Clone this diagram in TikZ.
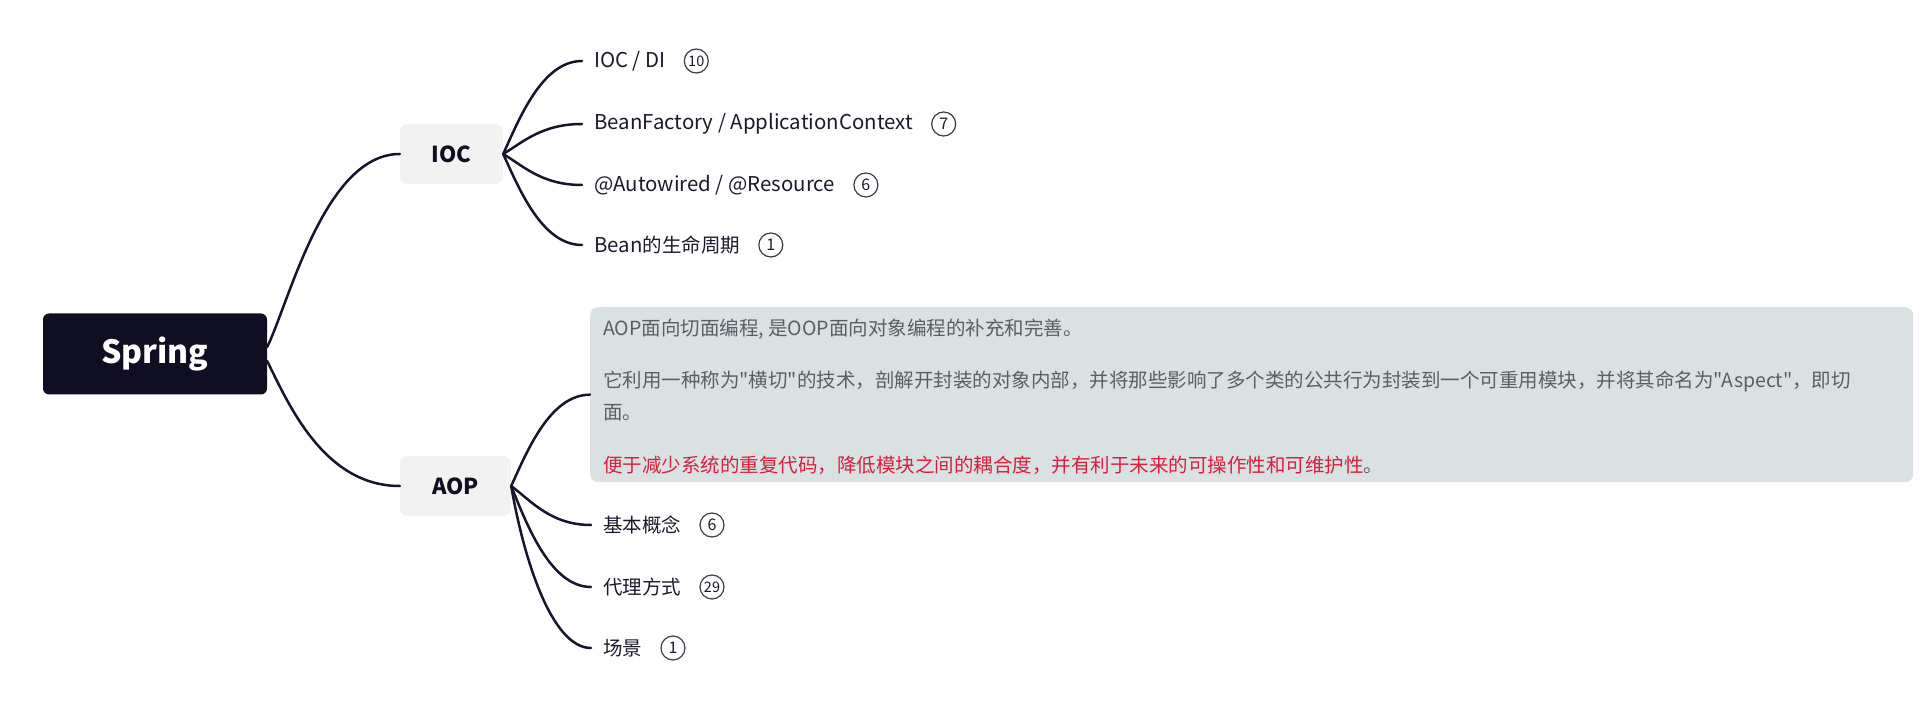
\documentclass[tikz,border=0pt]{standalone}
\usepackage{fontspec}
\setmainfont{Noto Sans CJK SC}
\newfontfamily\plainfont{Noto Sans CJK SC}
\usetikzlibrary{positioning}
\definecolor{navy}{HTML}{100E23}
\definecolor{linec}{HTML}{17142B}
\definecolor{boxgray}{HTML}{F2F2F2}
\definecolor{notebg}{HTML}{DAE1E3}
\definecolor{notetxt}{HTML}{5A5F64}
\definecolor{redtxt}{HTML}{D6203F}
\definecolor{childtxt}{HTML}{1B1A2C}
\definecolor{badgec}{HTML}{3C3C44}
\newcommand{\lat}[1]{{\fontsize{20.4}{24}\selectfont #1}}
\begin{document}
\begin{tikzpicture}[x=1pt,y=-1pt,
  conn/.style={draw=linec, line width=2.5pt, line cap=round},
  rootbox/.style={fill=navy, rounded corners=6pt, minimum width=224pt, minimum height=81pt, text=white, font=\fontsize{32}{38}\selectfont\bfseries},
  topic/.style={fill=boxgray, rounded corners=7pt, minimum height=60pt, text=navy, font=\fontsize{22}{26}\selectfont\bfseries},
  leaf/.style={anchor=west, inner sep=0pt, text=childtxt, font=\fontsize{19.5}{24}\selectfont},
  badge/.style={circle, draw=badgec, line width=1.2pt, minimum size=24pt, inner sep=0pt, text=childtxt, font=\fontsize{16}{18}\selectfont},
  notebox/.style={fill=notebg, rounded corners=8pt, inner sep=0pt},
  noteline/.style={anchor=west, inner sep=0pt, text=notetxt, font=\plainfont\fontsize{19.5}{24}\selectfont},
]
\useasboundingbox (0,0) rectangle (1920,708);

% root and topics
\node[rootbox] (spring) at (155,354) {Spring};
\node[topic, minimum width=103pt] (ioc) at (451.5,154) {IOC};
\node[topic, minimum width=111pt] (aop) at (455.5,486) {AOP};

% IOC children
\node[leaf] (c1) at (594,61) {\lat{IOC / DI}};
\node[leaf] (c2) at (594,124) {\lat{BeanFactory / ApplicationContext}};
\node[leaf] (c3) at (594,185) {\lat{@Autowired / @Resource}};
\node[leaf] (c4) at (594,245) {\lat{Bean}的生命周期};
\node[badge, right=18pt of c1] (b1) {\fontsize{14.5}{16}\selectfont 10};
\node[badge, right=18pt of c2] (b2) {7};
\node[badge, right=18pt of c3] (b3) {6};
\node[badge, right=18pt of c4] (b4) {1};

% AOP note
\node[notebox, minimum width=1323pt, minimum height=175pt, anchor=north west] (note) at (590,307) {};
\node[noteline] (n1) at (603,329) {AOP面向切面编程, 是OOP面向对象编程的补充和完善。};
\node[noteline] (n2) at (603,381) {它利用一种称为"横切"的技术，剖解开封装的对象内部，并将那些影响了多个类的公共行为封装到一个可重用模块，并将其命名为"Aspect"，即切};
\node[noteline] (n3) at (603,413) {面。};
\node[noteline] (n4) at (603,465) {\textcolor{redtxt}{便于减少系统的重复代码，降低模块之间的耦合度，并有利于未来的可操作性和可维护性}。};

% AOP children
\node[leaf] (a2) at (603,525) {基本概念};
\node[leaf] (a3) at (603,587) {代理方式};
\node[leaf] (a4) at (603,648) {场景};
\node[badge, right=18pt of a2] (b5) {6};
\node[badge, right=18pt of a3] (b6) {\fontsize{14.5}{16}\selectfont 29};
\node[badge, right=18pt of a4] (b7) {1};

% connectors
\draw[conn] ([yshift=7pt]spring.east) .. controls +(22,-45) and +(-75,0) .. (ioc.west);
\draw[conn] ([yshift=-7pt]spring.east) .. controls +(22,45) and +(-75,0) .. (aop.west);

\draw[conn] (ioc.east) .. controls +(16,-35) and +(-40,0) .. ([xshift=-12pt]c1.west);
\draw[conn] (ioc.east) .. controls +(20,-12) and +(-40,0) .. ([xshift=-12pt]c2.west);
\draw[conn] (ioc.east) .. controls +(20,12) and +(-40,0) .. ([xshift=-12pt]c3.west);
\draw[conn] (ioc.east) .. controls +(16,35) and +(-40,0) .. ([xshift=-12pt]c4.west);

\draw[conn] (aop.east) .. controls +(16,-35) and +(-40,0) .. (note.west);
\draw[conn] (aop.east) .. controls +(20,15) and +(-40,0) .. ([xshift=-12pt]a2.west);
\draw[conn] (aop.east) .. controls +(16,40) and +(-40,0) .. ([xshift=-12pt]a3.west);
\draw[conn] (aop.east) .. controls +(12,70) and +(-40,0) .. ([xshift=-12pt]a4.west);
\end{tikzpicture}
\end{document}
